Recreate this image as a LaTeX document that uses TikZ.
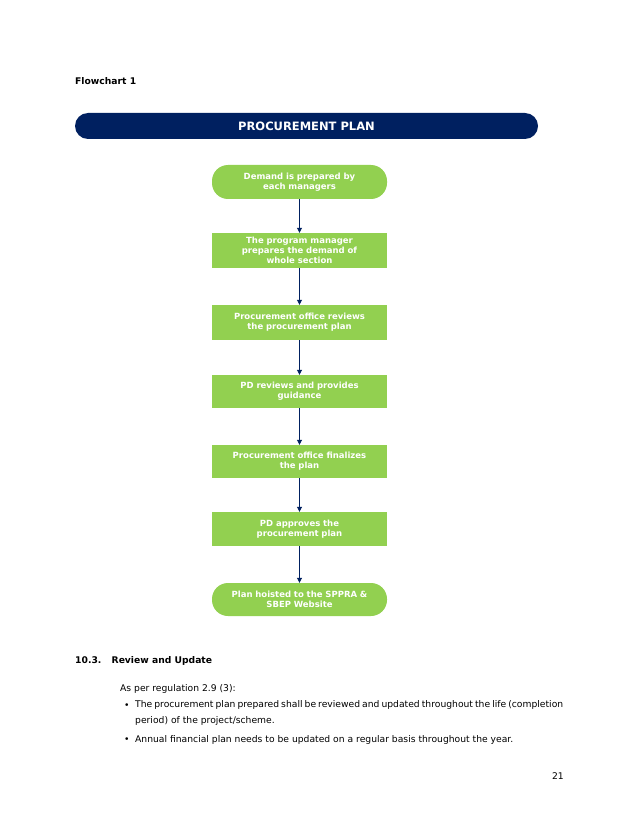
\documentclass[tikz,border=0pt]{standalone}
\usepackage{fontspec}
\setmainfont{DejaVu Sans}
\usetikzlibrary{arrows.meta}
\definecolor{navy}{HTML}{002060}
\definecolor{lgreen}{HTML}{92D050}
\tikzset{
 box/.style={fill=lgreen,draw=none,minimum width=175pt,text width=165pt,align=center,text=white,font=\fontsize{8.5}{10}\selectfont\bfseries},
 rbox/.style={box,rounded corners=16pt},
 arr/.style={draw=navy,line width=0.8pt,-{Triangle[length=5pt,width=5pt]}},
 body/.style={anchor=west,font=\fontsize{9.2}{11}\selectfont,inner sep=0pt}
}
\begin{document}
\begin{tikzpicture}[x=1pt,y=-1pt]
\useasboundingbox[fill=white] (0,0) rectangle (638,826);
\node[body,font=\fontsize{9.2}{11}\selectfont\bfseries] (fc) at (75,81) {Flowchart 1};
\node[fill=navy,rounded corners=13pt,minimum width=463pt,minimum height=26pt,text=white,font=\fontsize{11.5}{13}\selectfont\bfseries] (ban) at (306.5,126) {PROCUREMENT PLAN};
\node[rbox,minimum height=34pt] (b1) at (299.5,182) {Demand is prepared by\\each managers};
\node[box,minimum height=35pt] (b2) at (299.5,250.5) {The program manager\\prepares the demand of\\whole section};
\node[box,minimum height=35pt] (b3) at (299.5,322.5) {Procurement office reviews\\the procurement plan};
\node[box,minimum height=33pt] (b4) at (299.5,391.5) {PD reviews and provides\\guidance};
\node[box,minimum height=33pt] (b5) at (299.5,461.5) {Procurement office finalizes\\the plan};
\node[box,minimum height=34pt] (b6) at (299.5,529) {PD approves the\\procurement plan};
\node[rbox,minimum height=33pt] (b7) at (299.5,599.5) {Plan hoisted to the SPPRA \&\\SBEP Website};
\foreach \a/\b in {b1/b2,b2/b3,b3/b4,b4/b5,b5/b6,b6/b7}{\draw[arr] (\a) -- (\b);}
\node[body,font=\fontsize{9.2}{11}\selectfont\bfseries] (h) at (75,661) {10.3.\hspace{6pt} Review and Update};
\node[body] (t1) at (120,689) {As per regulation 2.9 (3):};
\node[body] (d1) at (124,706) {•};
\node[body,anchor=north west,text width=428pt,align=justify,font=\fontsize{9.2}{16.5}\selectfont] (t2) at (135,700) {The procurement plan prepared shall be reviewed and updated throughout the life (completion period) of the project/scheme.};
\node[body] (d2) at (124,740) {•};
\node[body] (t3) at (135,740) {Annual financial plan needs to be updated on a regular basis throughout the year.};
\node[body,anchor=east] (pg) at (564,776) {21};
\end{tikzpicture}
\end{document}
